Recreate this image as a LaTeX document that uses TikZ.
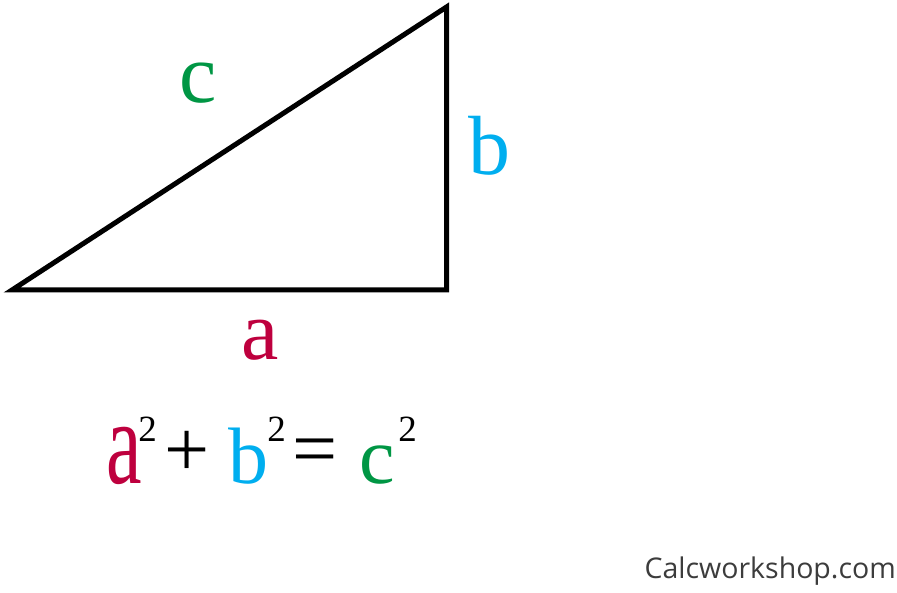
\documentclass[tikz,border=0pt]{standalone}
\usepackage{fontspec}
\setmainfont{Liberation Serif}
\newfontfamily\timesfont{Liberation Serif}
\newfontfamily\wmfont{Open Sans}
\definecolor{seiteA}{RGB}{190,0,62}
\definecolor{seiteB}{RGB}{0,174,239}
\definecolor{seiteC}{RGB}{0,150,68}
\definecolor{wmgrau}{RGB}{60,60,60}
\tikzset{
  buchst/.style={inner sep=0pt, anchor=base, font=\timesfont\fontsize{84}{84}\selectfont},
  gross/.style={inner sep=0pt, anchor=base, font=\timesfont\fontsize{80}{80}\selectfont},
  hoch/.style={inner sep=0pt, anchor=base, font=\timesfont\fontsize{37}{37}\selectfont},
}
\begin{document}
\begin{tikzpicture}[x=1pt, y=-1pt]
  \useasboundingbox (0,0) rectangle (897,593);

  % Dreieck
  \coordinate (A) at (12,290);
  \coordinate (B) at (446.5,290);
  \coordinate (C) at (446.5,7);
  \draw[line width=5pt, line join=miter] (A) -- (B) -- (C) -- cycle;

  % Seitenbezeichnungen
  \node[buchst, text=seiteA] (la) at (260,360) {a};
  \node[buchst, text=seiteB] (lb) at (489,175) {b};
  \node[buchst, text=seiteC] (lc) at (198,103) {c};

  % Satz des Pythagoras
  \node[gross, text=seiteA] (ga) at (124.5,483) {\scalebox{1}[1.5]{a}};
  \node[hoch] (ha) at (147.5,442) {2};
  \node[gross, anchor=center] (plus) at (187,454) {+};
  \node[gross, text=seiteB] (gb) at (248.5,483) {b};
  \node[hoch] (hb) at (276.5,442) {2};
  \node[gross, anchor=center] (gleich) at (315.5,457.5) {=};
  \node[gross, text=seiteC] (gc) at (377.5,483) {c};
  \node[hoch] (hc) at (407.5,442) {2};

  % Wasserzeichen
  \node[inner sep=0pt, anchor=base east, text=wmgrau, font=\wmfont\fontsize{28.5}{28.5}\selectfont] (wm) at (896,578) {Calcworkshop.com};
\end{tikzpicture}
\end{document}
